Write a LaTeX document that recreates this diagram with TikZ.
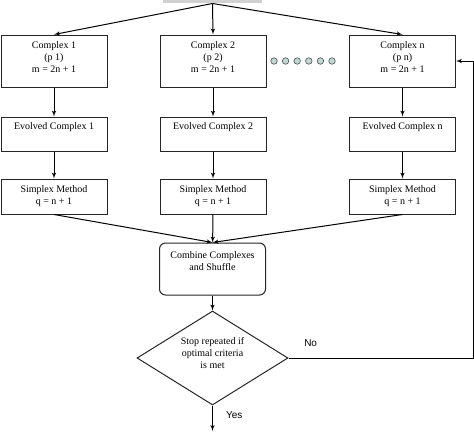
\documentclass[tikz,border=0pt]{standalone}
\usepackage{fontspec}
\setmainfont{Liberation Serif}
\newfontfamily\arialfont{Liberation Sans}
\usepackage{tikz}
\usetikzlibrary{arrows,positioning,shapes.geometric}
\definecolor{dotfill}{RGB}{190,216,212}

\begin{document}
\begin{tikzpicture}[
    x=1pt, y=-1pt,
    >=latex',
    font=\fontsize{10}{12}\selectfont,
    line width=1pt,
    order/.style={
		rectangle,
		draw=black!85,
		inner sep=0pt,
		minimum width=106pt,
		fill=white
	},
	cplx/.style={order, minimum height=52pt, text height=13pt, text depth=39pt},
	evol/.style={order, minimum height=34pt, text height=12pt, text depth=22pt},
	simp/.style={order, minimum height=35pt, text height=13pt, text depth=22pt},
	comb/.style={order, rounded corners=6pt, minimum height=52pt, text height=15pt, text depth=37pt},
	test/.style={
		diamond,
		draw=black!85,
		inner sep=0pt,
		aspect=1.6,
		minimum width=151pt,
		minimum height=94pt,
		text height=20pt,
		text depth=22pt
	},
	src/.style={rectangle, fill=black!18, minimum width=99pt, minimum height=26pt},
	dot/.style={circle, draw=black!70, line width=0.6pt, fill=dotfill, minimum size=6.5pt, inner sep=0pt},
	lbl/.style={
		font=\arialfont\fontsize{10}{12}\selectfont,
		inner sep=0pt
	}
  ]
  \useasboundingbox (0,0) rectangle (474,432);

    % We start by placing the blocks
  \node [src] (src) at (212.5,-10) {};

  \node [cplx] (cplx1) at (54,61)
 {\begin{tabular}[t]{c}
  Complex 1\\
  (p 1)\\
  m = 2n + 1
 \end{tabular}};

  \node [cplx] (cplx2) at (213,61)
 {\begin{tabular}[t]{c}
  Complex 2\\
  (p 2)\\
  m = 2n + 1
 \end{tabular}};

  \node [cplx] (cplx3) at (402.5,61)
 {\begin{tabular}[t]{c}
  Complex n\\
  (p n)\\
  m = 2n + 1
 \end{tabular}};

  \node [dot] (dot1) at (274,61) {};
  \node [dot] (dot2) at (285.6,61) {};
  \node [dot] (dot3) at (297.2,61) {};
  \node [dot] (dot4) at (308.8,61) {};
  \node [dot] (dot5) at (320.4,61) {};
  \node [dot] (dot6) at (332,61) {};

  \node [evol] (evol1) at (54,134) {Evolved Complex 1};
  \node [evol] (evol2) at (213,134) {Evolved Complex 2};
  \node [evol] (evol3) at (402.5,134) {Evolved Complex n};

  \node [simp] (simp1) at (54,196.5)
 {\begin{tabular}[t]{c}
  Simplex Method\\
  q = n + 1
 \end{tabular}};

  \node [simp] (simp2) at (213,196.5)
 {\begin{tabular}[t]{c}
  Simplex Method\\
  q = n + 1
 \end{tabular}};

  \node [simp] (simp3) at (402.5,196.5)
 {\begin{tabular}[t]{c}
  Simplex Method\\
  q = n + 1
 \end{tabular}};

  \node [comb] (comb) at (212.5,269)
 {\begin{tabular}[t]{c}
  Combine Complexes\\
  and Shuffle
 \end{tabular}};

  \node [test] (test) at (212.5,358)
 {\begin{tabular}{c}
  Stop repeated if\\
  optimal criteria\\
  is met
 \end{tabular}};

  \coordinate (back) at (473,358);
  \coordinate (out) at (212.5,431);

 \draw [->] (src.south) -- (cplx1.north);
 \draw [->] (src.south) -- (cplx2.north);
 \draw [->] (src.south) -- (cplx3.north);

 \draw [->] (cplx1) -- (evol1);
 \draw [->] (cplx2) -- (evol2);
 \draw [->] (cplx3) -- (evol3);
 \draw [->] (evol1) -- (simp1);
 \draw [->] (evol2) -- (simp2);
 \draw [->] (evol3) -- (simp3);

 \draw [->] (simp1.south) -- (comb.north);
 \draw [->] (simp2) -- (comb);
 \draw [->] (simp3.south) -- (comb.north);
 \draw [->] (comb) -- (test);

 \draw [->] (test.east) -- node [lbl, pos=0.12, above=11pt] {No} (back) |- (cplx3.east);
 \draw [->] (test.south) -- node [lbl, pos=0.38, right=13pt] {Yes} (out);

\end{tikzpicture}
\end{document}
